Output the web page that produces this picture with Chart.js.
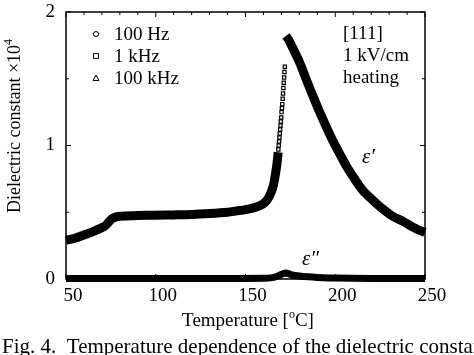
<!DOCTYPE html>
<html>
<head>
<meta charset="utf-8">
<script src="https://cdn.jsdelivr.net/npm/chart.js@4"></script>
<style>
html,body{margin:0;padding:0;background:#fff;}
#wrap{width:474px;height:355px;position:relative;}
</style>
</head>
<body>
<div id="wrap"><canvas id="c" width="474" height="355"></canvas></div>
<script>
// ---- data ----
const xTickLabels = [50, 100, 150, 200, 250];
const yTickLabels = [0, 1, 2];
const xMinorTicks = [60, 70, 80, 90, 110, 120, 130, 140, 160, 170, 180, 190, 210, 220, 230, 240];
const yMinorTicks = [0.5, 1.5];

// epsilon' (thick curve; null = gap where only sparse markers are seen)
const realT = [50, 55, 60, 65, 70, 72, 74, 76, 80, 90, 100, 110, 120, 130, 140, 145, 150, 155, 158, 160, 162, 164, 165.5, 166.5, 167.5, 168.2, 170,
  172.5, 173.7, 176, 180.2, 184, 187.6, 191, 195, 198.5, 202.4, 206, 209.8, 215, 220.9, 226, 232, 238, 243, 246, 250];
const realV = [0.29, 0.305, 0.33, 0.355, 0.385, 0.40, 0.43, 0.455, 0.47, 0.475, 0.478, 0.48, 0.483, 0.49, 0.50, 0.51, 0.52, 0.535, 0.55, 0.565, 0.59, 0.64, 0.70, 0.77, 0.86, 0.95, null,
  1.82, 1.80, 1.74, 1.62, 1.49, 1.37, 1.26, 1.14, 1.04, 0.94, 0.85, 0.77, 0.67, 0.59, 0.53, 0.47, 0.43, 0.39, 0.37, 0.35];

// sparse open markers on the steep rise
const jumpT = [168.3, 168.5, 168.7, 168.9, 169.1, 169.3, 169.5, 169.7, 169.9, 170.1, 170.3, 170.5, 170.7, 170.9, 171.1, 171.3, 171.5, 171.7, 171.9];
const jumpV = [0.97, 1.00, 1.03, 1.06, 1.09, 1.12, 1.15, 1.18, 1.21, 1.25, 1.28, 1.31, 1.35, 1.39, 1.43, 1.47, 1.51, 1.55, 1.59];

// epsilon''
const imagT = [50, 80, 110, 140, 160, 165, 168, 170, 172.5, 174, 176, 180, 185, 190, 200, 220, 250];
const imagV = [0.004, 0.004, 0.004, 0.004, 0.005, 0.01, 0.022, 0.035, 0.045, 0.04, 0.03, 0.022, 0.016, 0.012, 0.007, 0.004, 0.003];

const legendLabels = ['100 Hz', '1 kHz', '100 kHz'];
const legendStyles = ['circle', 'rect', 'triangle'];
const notes = ['[111]', '1 kV/cm', 'heating'];

const toXY = (xs, ys) => xs.map((x, i) => ({x: x, y: ys[i]}));
const SERIF = '"Liberation Serif", "DejaVu Serif", serif';

function line(ctx, x1, y1, x2, y2) { ctx.beginPath(); ctx.moveTo(x1, y1); ctx.lineTo(x2, y2); ctx.stroke(); }

function marker(ctx, style, x, y) {
  ctx.beginPath();
  if (style === 'circle') ctx.arc(x, y, 2.5, 0, Math.PI * 2);
  else if (style === 'rect') ctx.rect(x - 2.5, y - 2.5, 5, 5);
  else { ctx.moveTo(x, y - 3); ctx.lineTo(x + 3, y + 2.5); ctx.lineTo(x - 3, y + 2.5); ctx.closePath(); }
  ctx.stroke();
}

const decor = {
  id: 'decor',
  afterDraw(chart) {
    const {ctx, chartArea: a, scales: {x, y}} = chart;
    ctx.save();
    ctx.strokeStyle = '#000';
    ctx.fillStyle = '#000';
    ctx.lineWidth = 1.5;
    ctx.strokeRect(a.left, a.top, a.right - a.left, a.bottom - a.top);
    ctx.lineWidth = 1;
    xTickLabels.forEach(t => { const p = x.getPixelForValue(t); line(ctx, p, a.bottom, p, a.bottom - 5); line(ctx, p, a.top, p, a.top + 5); });
    xMinorTicks.forEach(t => { const p = x.getPixelForValue(t); line(ctx, p, a.bottom, p, a.bottom - 3); line(ctx, p, a.top, p, a.top + 3); });
    yTickLabels.forEach(t => { const p = y.getPixelForValue(t); line(ctx, a.left, p, a.left + 5, p); line(ctx, a.right, p, a.right - 5, p); });
    yMinorTicks.forEach(t => { const p = y.getPixelForValue(t); line(ctx, a.left, p, a.left + 3, p); line(ctx, a.right, p, a.right - 3, p); });

    // legend
    ctx.font = '19px ' + SERIF;
    ctx.textBaseline = 'middle';
    ctx.textAlign = 'left';
    legendLabels.forEach((lab, i) => {
      const yy = 34 + i * 22;
      marker(ctx, legendStyles[i], 96, yy);
      ctx.fillText(lab, 114, yy + 1);
    });
    // notes
    notes.forEach((n, i) => ctx.fillText(n, 343, 34 + i * 22));

    // curve labels
    ctx.font = 'italic 21px ' + SERIF;
    ctx.fillText('\u03B5\u2032', 362, 157);
    ctx.fillText('\u03B5\u2033', 302, 259);

    // x title
    ctx.font = '19px ' + SERIF;
    ctx.textBaseline = 'alphabetic';
    const p1 = 'Temperature [', p2 = 'C]';
    const w1 = ctx.measureText(p1).width;
    ctx.font = '12px ' + SERIF;
    const wo = ctx.measureText('o').width;
    ctx.font = '19px ' + SERIF;
    const w2 = ctx.measureText(p2).width;
    let sx = 248 - (w1 + wo + w2) / 2;
    const by = 326;
    ctx.fillText(p1, sx, by);
    ctx.font = '12px ' + SERIF;
    ctx.fillText('o', sx + w1, by - 8);
    ctx.font = '19px ' + SERIF;
    ctx.fillText(p2, sx + w1 + wo, by);

    // y title
    ctx.save();
    ctx.translate(20, 126);
    ctx.rotate(-Math.PI / 2);
    ctx.font = '18px ' + SERIF;
    const t1 = 'Dielectric constant \u00D710';
    const tw = ctx.measureText(t1).width;
    ctx.font = '12px ' + SERIF;
    const tw2 = ctx.measureText('4').width;
    const st = -(tw + tw2) / 2;
    ctx.font = '18px ' + SERIF;
    ctx.fillText(t1, st, 0);
    ctx.font = '12px ' + SERIF;
    ctx.fillText('4', st + tw, -8);
    ctx.restore();

    // caption (cut at bottom edge)
    ctx.font = '21px ' + SERIF;
    ctx.fillText('Fig. 4.  Temperature dependence of the dielectric constant', 2, 353);
    ctx.restore();
  }
};

new Chart(document.getElementById('c'), {
  type: 'line',
  data: {
    datasets: [
      {label: "eps'", data: toXY(realT, realV), borderColor: '#000', borderWidth: 9, pointRadius: 0, spanGaps: false, tension: 0.3, clip: false},
      {label: "eps' markers", data: toXY(jumpT, jumpV), showLine: false, pointStyle: 'rect', pointRadius: 2.3, pointBorderWidth: 1.2, pointBorderColor: '#000', pointBackgroundColor: '#fff', clip: false},
      {label: "eps''", data: toXY(imagT, imagV), borderColor: '#000', borderWidth: 7, pointRadius: 0, tension: 0.3, clip: false}
    ]
  },
  options: {
    responsive: false,
    animation: false,
    events: [],
    layout: {padding: {left: 0, right: 49, top: 12, bottom: 0}},
    plugins: {legend: {display: false}, tooltip: {enabled: false}},
    scales: {
      x: {
        type: 'linear', min: 50, max: 250,
        afterBuildTicks: s => { s.ticks = xTickLabels.map(v => ({value: v})); },
        afterFit: s => { s.height = 76; s.paddingLeft = 0; s.paddingRight = 0; },
        grid: {display: false, drawTicks: false},
        border: {display: false},
        ticks: {color: '#000', font: {family: SERIF, size: 19}, padding: 6, labelOffset: 7, maxRotation: 0}
      },
      y: {
        type: 'linear', min: 0, max: 2,
        afterBuildTicks: s => { s.ticks = yTickLabels.map(v => ({value: v})); },
        afterFit: s => { s.width = 66; s.paddingTop = 0; s.paddingBottom = 0; },
        grid: {display: false, drawTicks: false},
        border: {display: false},
        ticks: {color: '#000', font: {family: SERIF, size: 19}, padding: 11}
      }
    }
  },
  plugins: [decor]
});
</script>
</body>
</html>
